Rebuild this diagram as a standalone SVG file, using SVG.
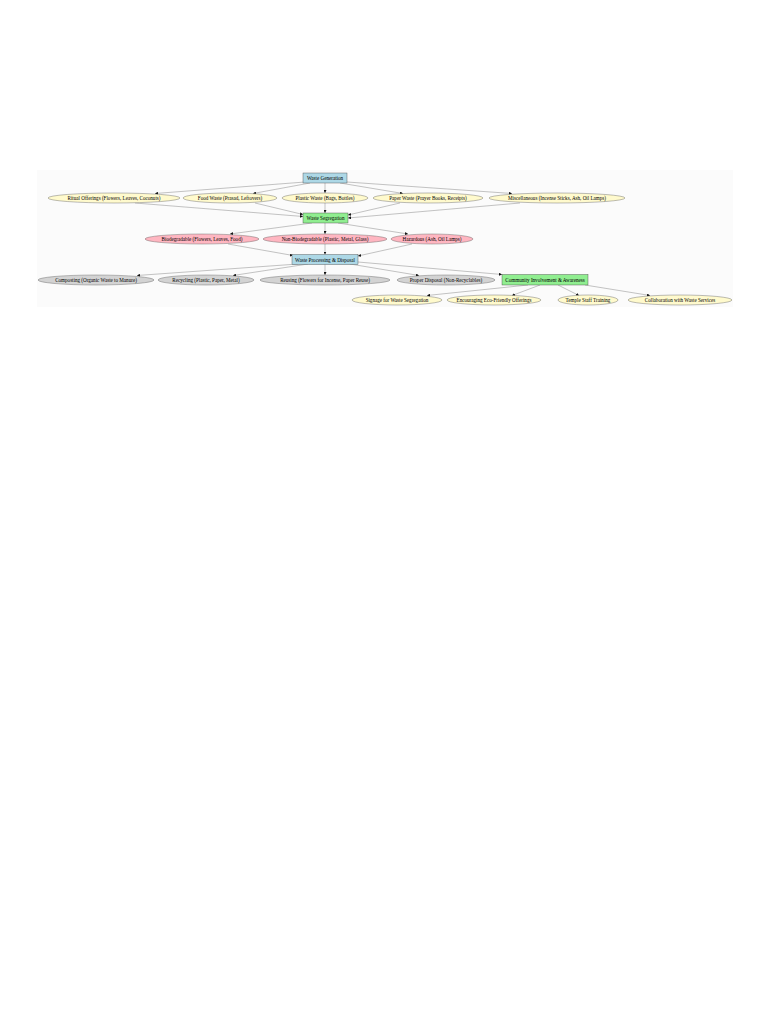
<svg xmlns="http://www.w3.org/2000/svg" width="768" height="1024" viewBox="0 0 768 1024">
<style>
text{font-family:"Liberation Serif","DejaVu Serif",serif;font-size:5.1px;fill:#000;text-anchor:middle;dominant-baseline:central}
.box{stroke:#444;stroke-width:0.4}
.ell{stroke:#555;stroke-width:0.4}
.blue{fill:#add8e6}.green{fill:#90ee90}.yel{fill:#fffacd}.pink{fill:#ffb6c1}.gray{fill:#d3d3d3}
#edges line{stroke:#888;stroke-width:0.5;marker-end:url(#ah)}
</style>
<defs>
<marker id="ah" viewBox="0 0 10 10" refX="10" refY="5" markerWidth="3" markerHeight="3" orient="auto" markerUnits="userSpaceOnUse">
<path d="M0,0 L10,5 L0,10 z" fill="#111"/>
</marker>
</defs>
<rect x="0" y="0" width="768" height="1024" fill="#fff"/>
<rect x="37" y="170" width="696" height="137" fill="#fbfbfb"/>
<g id="edges">
<line x1="305" y1="182" x2="155" y2="193.5"/>
<line x1="310" y1="183" x2="253" y2="193.5"/>
<line x1="325" y1="183" x2="325" y2="193"/>
<line x1="340" y1="183" x2="403" y2="193.5"/>
<line x1="347" y1="182" x2="512" y2="193.5"/>
<line x1="135" y1="203" x2="303" y2="216.5"/>
<line x1="255" y1="203" x2="303" y2="214.5"/>
<line x1="325" y1="203" x2="325" y2="213"/>
<line x1="400" y1="203" x2="348" y2="215"/>
<line x1="520" y1="203" x2="348" y2="218"/>
<line x1="312" y1="223" x2="230" y2="234"/>
<line x1="325" y1="223" x2="325" y2="234"/>
<line x1="338" y1="223" x2="408" y2="234"/>
<line x1="228" y1="244" x2="293" y2="255.5"/>
<line x1="325" y1="244" x2="325" y2="254.5"/>
<line x1="412" y1="244" x2="358" y2="256"/>
<line x1="298" y1="264" x2="137" y2="275.5"/>
<line x1="308" y1="264" x2="233" y2="275.5"/>
<line x1="325" y1="264" x2="325" y2="275"/>
<line x1="350" y1="264" x2="419" y2="275.5"/>
<line x1="358" y1="262" x2="502" y2="274.5"/>
<line x1="528" y1="285" x2="427" y2="295.5"/>
<line x1="540" y1="285" x2="512" y2="295.5"/>
<line x1="558" y1="285" x2="579" y2="295.5"/>
<line x1="585" y1="285" x2="650" y2="295.5"/>
</g>
<g id="waste_generation"><rect class="box blue" x="303" y="173" width="44" height="10"/><text x="325" y="178">Waste Generation</text></g>
<g id="ritual"><ellipse class="ell yel" cx="114" cy="198" rx="66" ry="5"/><text x="114" y="198">Ritual Offerings (Flowers, Leaves, Coconuts)</text></g>
<g id="food"><ellipse class="ell yel" cx="230" cy="198" rx="47" ry="5"/><text x="230" y="198">Food Waste (Prasad, Leftovers)</text></g>
<g id="plastic"><ellipse class="ell yel" cx="325" cy="198" rx="43" ry="5"/><text x="325" y="198">Plastic Waste (Bags, Bottles)</text></g>
<g id="paper"><ellipse class="ell yel" cx="428" cy="198" rx="55" ry="5"/><text x="428" y="198">Paper Waste (Prayer Books, Receipts)</text></g>
<g id="misc"><ellipse class="ell yel" cx="557" cy="198" rx="68" ry="5"/><text x="557" y="198">Miscellaneous (Incense Sticks, Ash, Oil Lamps)</text></g>
<g id="waste_segregation"><rect class="box green" x="303" y="213" width="45" height="10"/><text x="325.5" y="218">Waste Segregation</text></g>
<g id="biodegradable"><ellipse class="ell pink" cx="202" cy="239" rx="57" ry="5"/><text x="202" y="239">Biodegradable (Flowers, Leaves, Food)</text></g>
<g id="non_biodegradable"><ellipse class="ell pink" cx="325" cy="239" rx="62" ry="5"/><text x="325" y="239">Non-Biodegradable (Plastic, Metal, Glass)</text></g>
<g id="hazardous"><ellipse class="ell pink" cx="432" cy="239" rx="41" ry="5"/><text x="432" y="239">Hazardous (Ash, Oil Lamps)</text></g>
<g id="processing"><rect class="box blue" x="292" y="254.5" width="66" height="10"/><text x="325" y="259.5">Waste Processing &amp; Disposal</text></g>
<g id="composting"><ellipse class="ell gray" cx="96" cy="280" rx="58" ry="5"/><text x="96" y="280">Composting (Organic Waste to Manure)</text></g>
<g id="recycling"><ellipse class="ell gray" cx="206" cy="280" rx="48" ry="5"/><text x="206" y="280">Recycling (Plastic, Paper, Metal)</text></g>
<g id="reusing"><ellipse class="ell gray" cx="325" cy="280" rx="65" ry="5"/><text x="325" y="280">Reusing (Flowers for Incense, Paper Reuse)</text></g>
<g id="proper_disposal"><ellipse class="ell gray" cx="446" cy="280" rx="49" ry="5"/><text x="446" y="280">Proper Disposal (Non-Recyclables)</text></g>
<g id="community"><rect class="box green" x="502" y="274.5" width="86" height="10.5"/><text x="545" y="279.8">Community Involvement &amp; Awareness</text></g>
<g id="signage"><ellipse class="ell yel" cx="397" cy="300" rx="45" ry="5"/><text x="397" y="300">Signage for Waste Segregation</text></g>
<g id="encouraging"><ellipse class="ell yel" cx="494" cy="300" rx="47" ry="5"/><text x="494" y="300">Encouraging Eco-Friendly Offerings</text></g>
<g id="temple_staff"><ellipse class="ell yel" cx="588" cy="300" rx="30" ry="5"/><text x="588" y="300">Temple Staff Training</text></g>
<g id="collaboration"><ellipse class="ell yel" cx="680" cy="300" rx="52" ry="5"/><text x="680" y="300">Collaboration with Waste Services</text></g>
</svg>
